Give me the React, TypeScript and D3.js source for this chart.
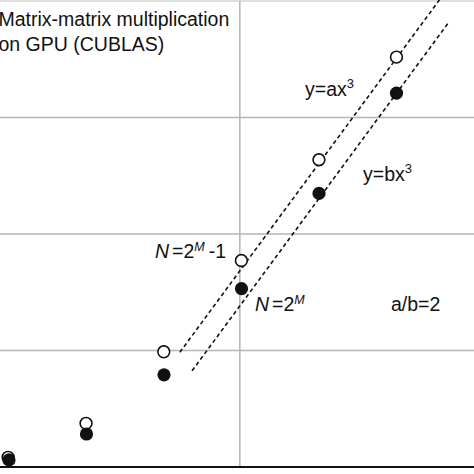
import * as d3 from "d3";

// matrix size exponent M (N = 2^M)
const exponents = [7, 8, 9, 10, 11, 12];
// time, N = 2^M - 1 (open circles)
const timeOdd = [1.21e-4, 2.37e-4, 9.75e-4, 5.92e-3, 0.0434, 0.33];
// time, N = 2^M (filled circles)
const timePow2 = [1.15e-4, 1.92e-4, 6.18e-4, 3.4e-3, 0.0223, 0.162];
// fitted cubic coefficients, a/b = 2
const coefA = 4.7e-12;
const coefB = 2.35e-12;
const fitRangeA = [590, 6050];
const fitRangeB = [658, 6550];
const yTicks = [1e-4, 1e-3, 1e-2, 1e-1, 1];
const xTicks = [1000];

export default function App() {
  const width = 474;
  const height = 474;
  const font = "'Liberation Sans', Arial, Helvetica, sans-serif";

  const x = d3.scaleLog().base(2).domain([Math.pow(2, 6.884), Math.pow(2, 13)]).range([0, width]);
  const y = d3.scaleLog().domain([1e-4, 1]).range([467, 1]);

  const fitLine = (c: number, r: number[]) => {
    const pts = d3.range(0, 41).map((i) => {
      const n = r[0] * Math.pow(r[1] / r[0], i / 40);
      return [n, c * n * n * n] as [number, number];
    });
    return d3.line<[number, number]>((d) => x(d[0]), (d) => y(d[1]))(pts) ?? "";
  };

  return (
    <svg width={width} height={height} style={{ position: "absolute", left: 0, top: 0, background: "#fff" }} fontFamily={font}>
      <rect width={width} height={height} fill="#fff" />
      {yTicks.slice(1).map((t) => (
        <line key={t} x1={0} x2={width} y1={y(t)} y2={y(t)} stroke={t === 1 ? "#d4d4d4" : "#b4b4b4"} strokeWidth={1.5} />
      ))}
      {xTicks.map((t) => (
        <line key={t} x1={x(t) + 1} x2={x(t) + 1} y1={y(1)} y2={y(1e-4)} stroke="#b4b4b4" strokeWidth={1.5} />
      ))}
      <line x1={0} x2={width} y1={y(1e-4)} y2={y(1e-4)} stroke="#111" strokeWidth={2} />

      <path d={fitLine(coefA, fitRangeA)} fill="none" stroke="#111" strokeWidth={1.6} strokeDasharray="4,3" />
      <path d={fitLine(coefB, fitRangeB)} fill="none" stroke="#111" strokeWidth={1.6} strokeDasharray="4,3" />

      {exponents.map((m, i) => (
        <circle key={"o" + m} cx={x(Math.pow(2, m) - 1)} cy={y(timeOdd[i])} r={5.9} fill="#fff" stroke="#111" strokeWidth={1.6} />
      ))}
      {exponents.map((m, i) => (
        <circle key={"f" + m} cx={x(Math.pow(2, m))} cy={y(timePow2[i])} r={6.6} fill="#111" />
      ))}

      <g fontSize={19.5} fill="#111">
        <text x={-1.5} y={26}>Matrix-matrix multiplication</text>
        <text x={-1.5} y={51}>on GPU (CUBLAS)</text>
        <text x={305} y={96}>
          y=ax<tspan dy={-8} fontSize={13}>3</tspan>
        </text>
        <text x={363} y={181}>
          y=bx<tspan dy={-8} fontSize={13}>3</tspan>
        </text>
        <text x={155} y={258}>
          <tspan fontStyle="italic">N</tspan>
          <tspan dx={3}>=2</tspan>
          <tspan dy={-7} fontSize={12.5} fontStyle="italic">M</tspan>
          <tspan dy={7} dx={4}>-1</tspan>
        </text>
        <text x={255} y={311}>
          <tspan fontStyle="italic">N</tspan>
          <tspan dx={3}>=2</tspan>
          <tspan dy={-7} fontSize={12.5} fontStyle="italic">M</tspan>
        </text>
        <text x={391} y={311}>a/b=2</text>
      </g>
    </svg>
  );
}
